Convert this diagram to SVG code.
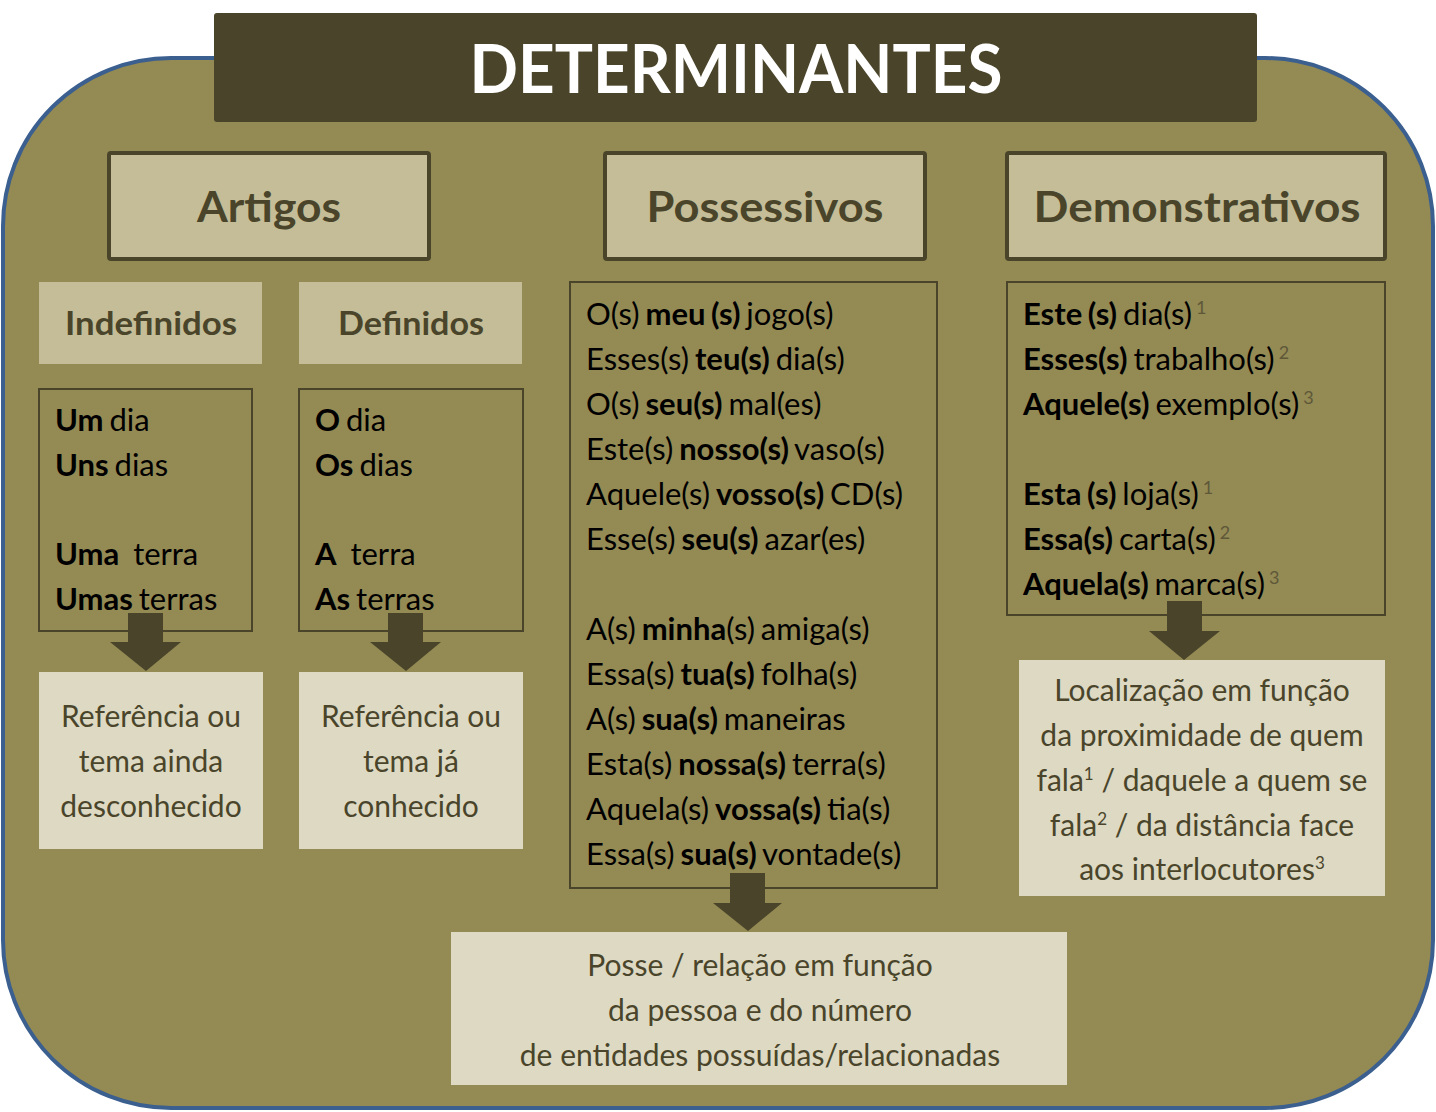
<svg xmlns="http://www.w3.org/2000/svg" width="1436" height="1112" viewBox="0 0 1436 1112">
<style>
text{font-family:Lato,"Liberation Sans","DejaVu Sans",sans-serif}
.hdr{fill:#C4BD97;stroke:#4A452A;stroke-width:4}
.sub{fill:#C4BD97}
.lst{fill:none;stroke:#4A452A;stroke-width:2}
.ref{fill:#DDD9C3}
.ht{font-size:42px;font-weight:700;fill:#4A452A;text-anchor:middle}
.st{font-size:32px;font-weight:700;fill:#4A452A;text-anchor:middle}
.lt{font-size:31px;fill:#000;word-spacing:-2px}
.rt{font-size:30px;fill:#4A452A;text-anchor:middle}
.b{font-weight:700}
.sup{font-size:18px;fill:#5E5839}
.arrow{fill:#4A452A}
</style>
<g id="background">
<rect x="3" y="58" width="1430" height="1050" rx="168" ry="168" fill="#948A54" stroke="#3B5F8F" stroke-width="4"/>
</g>
<g id="title">
<rect x="214" y="13" width="1043" height="109" rx="3" fill="#4A452A"/>
<text x="736" y="93" font-size="66" font-weight="700" fill="#FFFFFF" text-anchor="middle" textLength="533" lengthAdjust="spacingAndGlyphs">DETERMINANTES</text>
</g>
<g id="artigos">
<rect class="hdr" x="109" y="153" width="320" height="106" rx="2"/>
<text class="ht" x="269" y="222" textLength="144" lengthAdjust="spacingAndGlyphs">Artigos</text>
</g>
<g id="possessivos">
<rect class="hdr" x="605" y="153" width="320" height="106" rx="2"/>
<text class="ht" x="765" y="222" textLength="237" lengthAdjust="spacingAndGlyphs">Possessivos</text>
</g>
<g id="demonstrativos">
<rect class="hdr" x="1007" y="153" width="378" height="106" rx="2"/>
<text class="ht" x="1197" y="222" textLength="327" lengthAdjust="spacingAndGlyphs">Demonstrativos</text>
</g>
<g id="indefinidos">
<rect class="sub" x="39" y="282" width="223" height="82"/>
<text class="st" x="151" y="335" textLength="172" lengthAdjust="spacingAndGlyphs">Indefinidos</text>
</g>
<g id="definidos">
<rect class="sub" x="299" y="282" width="223" height="82"/>
<text class="st" x="411" y="335" textLength="146" lengthAdjust="spacingAndGlyphs">Definidos</text>
</g>
<g id="lista-indefinidos">
<rect class="lst" x="39" y="389" width="213" height="242"/>
<text class="lt" x="55" y="431"><tspan class="b">Um</tspan> dia</text>
<text class="lt" x="55" y="476"><tspan class="b">Uns</tspan> dias</text>
<text class="lt" x="55" y="565"><tspan class="b">Uma</tspan><tspan dx="8"> terra</tspan></text>
<text class="lt" x="55" y="610"><tspan class="b">Umas</tspan> terras</text>
</g>
<g id="lista-definidos">
<rect class="lst" x="299" y="389" width="224" height="242"/>
<text class="lt" x="315" y="431"><tspan class="b">O</tspan> dia</text>
<text class="lt" x="315" y="476"><tspan class="b">Os</tspan> dias</text>
<text class="lt" x="315" y="565"><tspan class="b">A</tspan><tspan dx="8"> terra</tspan></text>
<text class="lt" x="315" y="610"><tspan class="b">As</tspan> terras</text>
</g>
<g id="ref-indefinidos">
<rect class="ref" x="39" y="672" width="224" height="177"/>
<text class="rt" x="151" y="727">Referência ou</text>
<text class="rt" x="151" y="772">tema ainda</text>
<text class="rt" x="151" y="817">desconhecido</text>
</g>
<g id="ref-definidos">
<rect class="ref" x="299" y="672" width="224" height="177"/>
<text class="rt" x="411" y="727">Referência ou</text>
<text class="rt" x="411" y="772">tema já</text>
<text class="rt" x="411" y="817">conhecido</text>
</g>
<g id="lista-possessivos">
<rect class="lst" x="570" y="282" width="367" height="606"/>
<text class="lt" x="586" y="325">O(s) <tspan class="b">meu (s)</tspan> jogo(s)</text>
<text class="lt" x="586" y="370">Esses(s) <tspan class="b">teu(s)</tspan> dia(s)</text>
<text class="lt" x="586" y="415">O(s) <tspan class="b">seu(s)</tspan> mal(es)</text>
<text class="lt" x="586" y="460">Este(s) <tspan class="b">nosso(s)</tspan> vaso(s)</text>
<text class="lt" x="586" y="505">Aquele(s) <tspan class="b">vosso(s)</tspan> CD(s)</text>
<text class="lt" x="586" y="550">Esse(s) <tspan class="b">seu(s)</tspan> azar(es)</text>
<text class="lt" x="586" y="640">A(s) <tspan class="b">minha</tspan>(s) amiga(s)</text>
<text class="lt" x="586" y="685">Essa(s) <tspan class="b">tua(s)</tspan> folha(s)</text>
<text class="lt" x="586" y="730">A(s) <tspan class="b">sua(s)</tspan> maneiras</text>
<text class="lt" x="586" y="775">Esta(s) <tspan class="b">nossa(s)</tspan> terra(s)</text>
<text class="lt" x="586" y="820">Aquela(s) <tspan class="b">vossa(s)</tspan> tia(s)</text>
<text class="lt" x="586" y="865">Essa(s) <tspan class="b">sua(s)</tspan> vontade(s)</text>
</g>
<g id="lista-demonstrativos">
<rect class="lst" x="1007" y="282" width="378" height="333"/>
<text class="lt" x="1023" y="325"><tspan class="b">Este (s)</tspan> dia(s)<tspan class="sup" dx="4" dy="-11">1</tspan></text>
<text class="lt" x="1023" y="370"><tspan class="b">Esses(s)</tspan> trabalho(s)<tspan class="sup" dx="4" dy="-11">2</tspan></text>
<text class="lt" x="1023" y="415"><tspan class="b">Aquele(s)</tspan> exemplo(s)<tspan class="sup" dx="4" dy="-11">3</tspan></text>
<text class="lt" x="1023" y="505"><tspan class="b">Esta (s)</tspan> loja(s)<tspan class="sup" dx="4" dy="-11">1</tspan></text>
<text class="lt" x="1023" y="550"><tspan class="b">Essa(s)</tspan> carta(s)<tspan class="sup" dx="4" dy="-11">2</tspan></text>
<text class="lt" x="1023" y="595"><tspan class="b">Aquela(s)</tspan> marca(s)<tspan class="sup" dx="4" dy="-11">3</tspan></text>
</g>
<g id="ref-possessivos">
<rect class="ref" x="451" y="932" width="616" height="153"/>
<text class="rt" x="760" y="976">Posse / relação em função</text>
<text class="rt" x="760" y="1021">da pessoa e do número</text>
<text class="rt" x="760" y="1066">de entidades possuídas/relacionadas</text>
</g>
<g id="ref-demonstrativos">
<rect class="ref" x="1019" y="660" width="366" height="236"/>
<text class="rt" x="1202" y="701">Localização em função</text>
<text class="rt" x="1202" y="746">da proximidade de quem</text>
<text class="rt" x="1202" y="791">fala<tspan font-size="17" dy="-11">1</tspan><tspan dy="11"> / daquele a quem se</tspan></text>
<text class="rt" x="1202" y="836">fala<tspan font-size="17" dy="-11">2</tspan><tspan dy="11"> / da distância face</tspan></text>
<text class="rt" x="1202" y="880">aos interlocutores<tspan font-size="17" dy="-11">3</tspan></text>
</g>
<g id="connectors">
<path class="arrow" d="M128,613 H163 V642 H181 L146,671 L110,642 H128 Z"/>
<path class="arrow" d="M388,613 H423 V642 H441 L406,671 L370,642 H388 Z"/>
<path class="arrow" d="M730,873 H765 V903 H782 L748,931 L713,903 H730 Z"/>
<path class="arrow" d="M1167,601 H1202 V631 H1220 L1184,660 L1149,631 H1167 Z"/>
</g>
</svg>
